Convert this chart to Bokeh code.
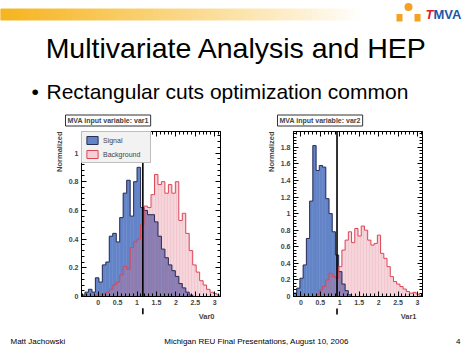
import numpy as np
from bokeh.plotting import figure
from bokeh.models import (Range1d, LinearAxis, SingleIntervalTicker, NumeralTickFormatter,
                          CustomJSTickFormatter, Label, Legend, LegendItem, Arrow, NormalHead,
                          TeeHead, Title)
from bokeh.layouts import column, row
from bokeh.embed import file_html
from bokeh.resources import INLINE

# ---------------- data ----------------
slide_title = "Multivariate Analysis and HEP"
bullet_text = "Rectangular cuts optimization common"
footer_left = "Matt Jachowski"
footer_center = "Michigan REU Final Presentations, August 10, 2006"
page_number = "4"
logo_t = "T"
logo_rest = "MVA"

legend_labels = ["Signal", "Background"]
ylabel_text = "Normalized"

var0_title = "MVA input variable: var1"
var0_xlabel = "Var0"
var0_range = (-0.43, 3.15)
var0_ymax = 1.15
var0_cut = 1.15
var0_signal = [0.01, 0.03, 0.05, 0.03, 0.13, 0.10, 0.22, 0.24, 0.42, 0.44,
               0.38, 0.55, 0.72, 0.81, 0.56, 0.80, 0.90, 0.62, 0.60, 0.57,
               0.57, 0.52, 0.42, 0.33, 0.27, 0.22, 0.18, 0.14, 0.09, 0.06,
               0.03, 0.01, 0.0, 0.0, 0.0, 0.0, 0.0, 0.0, 0.0, 0.0]
var0_background = [0.0, 0.0, 0.0, 0.0, 0.01, 0.01, 0.02, 0.03, 0.05, 0.08,
                   0.10, 0.15, 0.21, 0.19, 0.34, 0.38, 0.40, 0.50, 0.63, 0.62,
                   0.71, 0.85, 0.78, 0.80, 0.72, 0.78, 0.72, 0.80, 0.53, 0.58,
                   0.44, 0.32, 0.22, 0.17, 0.11, 0.08, 0.05, 0.03, 0.02, 0.01]

var1_title = "MVA input variable: var2"
var1_xlabel = "Var1"
var1_range = (-0.19, 3.13)
var1_ymax = 1.99
var1_cut = 0.93
var1_signal = [0.04, 0.10, 0.22, 0.38, 0.70, 1.15, 1.82, 1.52, 1.58, 1.56,
               1.18, 1.00, 0.78, 0.50, 0.30, 0.15, 0.07, 0.02, 0.0, 0.0,
               0.0, 0.0, 0.0, 0.0, 0.0, 0.0, 0.0, 0.0, 0.0, 0.0,
               0.0, 0.0, 0.0, 0.0, 0.0, 0.0, 0.0, 0.0, 0.0, 0.0]
var1_background = [0.0, 0.0, 0.0, 0.0, 0.0, 0.0, 0.0, 0.02, 0.08, 0.12,
                   0.20, 0.28, 0.24, 0.22, 0.36, 0.56, 0.68, 0.78, 0.65, 0.82,
                   0.73, 0.85, 0.80, 0.68, 0.62, 0.64, 0.74, 0.52, 0.46, 0.36,
                   0.24, 0.18, 0.15, 0.12, 0.09, 0.06, 0.04, 0.05, 0.03, 0.01]

FONT = "Liberation Sans"
SIG_FILL = "#6484C8"
SIG_LINE = "#2B2F55"
BKG_FILL = "#DE7084"
BKG_LINE = "#DC4655"


def blank_fig(w, h):
    f = figure(width=w, height=h, x_range=Range1d(0, w), y_range=Range1d(h, 0),
               toolbar_location=None, output_backend="svg", min_border=0,
               x_axis_type=None, y_axis_type=None)
    f.outline_line_color = None
    f.background_fill_color = "white"
    f.border_fill_color = "white"
    return f


def text_at(fig, x, y, txt, size, align="left", **kw):
    # y is the desired baseline; bokeh draws alphabetic text ~0.25em lower
    fig.add_layout(Label(x=x, y=y - 0.25 * size, text=txt, text_font=FONT,
                         text_font_size=f"{size}px", text_align=align,
                         text_baseline="alphabetic", **kw))


# ---------------- header ----------------
hdr = blank_fig(474, 105)
n = 120
gx = np.linspace(0, 360, n + 1)
t = (gx[:-1] + gx[1:]) / 2 / 360
a = np.clip(1 - t, 0, 1) ** 0.9
base = np.array([246, 180, 30])
cols = ["#%02x%02x%02x" % tuple(int(round(c)) for c in (base * ai + 255 * (1 - ai))) for ai in a]
hdr.quad(left=gx[:-1], right=gx[1:], top=8.5, bottom=19.5, fill_color=cols, line_color=cols)

# logo figure
hdr.ellipse(x=[408], y=[6.5], width=8, height=8, fill_color="#F5A21E", line_color=None)
hdr.quad(left=[396, 414], right=[402, 420], top=[13.5, 13.5], bottom=[21, 21],
         fill_color="#F5A21E", line_color=None)
text_at(hdr, 425, 17.5, logo_t, 13, text_font_style="bold italic", text_color="#D8202A")
text_at(hdr, 433, 17.5, logo_rest, 13, text_font_style="bold", text_color="#1F55A8")

text_at(hdr, 236, 55, slide_title, 28.5, align="center", text_color="black")
text_at(hdr, 31, 96.5, "\u2022", 21, text_color="black")
text_at(hdr, 46, 96.5, bullet_text, 21, text_color="black")


# ---------------- histograms ----------------
def style_axis(ax, show_labels=True):
    ax.major_tick_in = 5
    ax.major_tick_out = 0
    ax.minor_tick_in = 3
    ax.minor_tick_out = 0
    ax.axis_line_color = "black"
    ax.major_tick_line_color = "black"
    ax.minor_tick_line_color = "black"
    ax.major_label_text_font = FONT
    ax.major_label_text_font_style = "bold"
    ax.major_label_text_font_size = "7px"
    ax.major_label_standoff = 3
    if show_labels:
        ax.formatter = NumeralTickFormatter(format="0.[0]")
    else:
        ax.formatter = CustomJSTickFormatter(code="return ''")
        ax.major_label_standoff = 0


def hist_panel(width, borders, xr, ymax, sig, bkg, cut, title, xlabel, ystep,
               px_per_y, legend=False):
    bl, br, bt, bb = borders
    p = figure(width=width, height=220, x_range=Range1d(*xr), y_range=Range1d(0, ymax),
               toolbar_location=None, output_backend="svg",
               min_border_left=bl, min_border_right=br, min_border_top=bt, min_border_bottom=bb,
               x_axis_type=None, y_axis_type=None)
    p.outline_line_color = "black"
    p.background_fill_color = "white"
    p.border_fill_color = "white"

    xt = SingleIntervalTicker(interval=0.5, num_minor_ticks=5)
    yt = SingleIntervalTicker(interval=ystep, num_minor_ticks=5)
    for loc, show in (("below", True), ("above", False)):
        ax = LinearAxis(ticker=xt)
        style_axis(ax, show)
        p.add_layout(ax, loc)
    for loc, show in (("left", True), ("right", False)):
        ax = LinearAxis(ticker=yt)
        style_axis(ax, show)
        p.add_layout(ax, loc)

    # outside texts as titles on the panels
    p.add_layout(Title(text=title, align="left", offset=-16, standoff=11,
                       text_font=FONT, text_font_style="bold", text_font_size="7px",
                       border_line_color="#333333", border_line_width=1,
                       background_fill_color="white", padding=2), "above")
    p.add_layout(Title(text=ylabel_text, align="right", offset=0, standoff=3,
                       text_font=FONT, text_font_style="bold", text_font_size="7.5px"), "left")
    p.add_layout(Title(text=xlabel, align="right", offset=6, standoff=4,
                       text_font=FONT, text_font_style="bold", text_font_size="7.5px"), "below")

    edges = np.linspace(xr[0], xr[1], len(sig) + 1)
    sig = np.array(sig)
    bkg = np.array(bkg)
    p.quad(left=edges[:-1], right=edges[1:], bottom=0, top=sig,
           fill_color=SIG_FILL, line_color=SIG_FILL, line_width=0.5)
    p.quad(left=edges[:-1], right=edges[1:], bottom=0, top=bkg,
           fill_color=BKG_FILL, fill_alpha=0.3, line_color=None,
           hatch_pattern="|", hatch_color=BKG_FILL, hatch_alpha=0.25,
           hatch_scale=3, hatch_weight=0.5)
    sx = np.concatenate([[edges[0]], edges])
    p.step(x=sx, y=np.concatenate([[0], sig, [0]]), mode="after",
           line_color=SIG_LINE, line_width=1)
    p.step(x=sx, y=np.concatenate([[0], bkg, [0]]), mode="after",
           line_color=BKG_LINE, line_width=1)

    if legend:
        ls = p.quad(left=edges[:-1], right=edges[1:], bottom=0, top=sig,
                    fill_color=SIG_FILL, line_color=SIG_LINE, visible=False)
        lb = p.quad(left=edges[:-1], right=edges[1:], bottom=0, top=bkg,
                    fill_color="#F3D0D6", line_color=BKG_LINE, visible=False)
        lg = Legend(items=[LegendItem(label=legend_labels[0], renderers=[ls]),
                           LegendItem(label=legend_labels[1], renderers=[lb])],
                    location="top_left", margin=0, padding=3, spacing=4,
                    glyph_width=14, glyph_height=10, label_standoff=4,
                    label_text_font=FONT, label_text_font_size="7px",
                    label_height=10, label_width=44,
                    border_line_color="#888888", border_line_width=1,
                    background_fill_color="#F2F2F2", background_fill_alpha=1)
        p.add_layout(lg)

    # cut arrow: body inside the frame, head below it
    y_head = -18.0 / px_per_y
    p.add_layout(Arrow(end=NormalHead(size=6, fill_color="black", line_color="black"),
                       x_start=cut, y_start=ymax, x_end=cut, y_end=y_head,
                       line_color="black", line_width=1.6))
    # line pieces continuing outside the frame (drawn as tee heads)
    dx = 0.05
    for yc, sz in ((-7.0 / px_per_y, 15), (ymax + 3.5 / px_per_y, 8)):
        p.add_layout(Arrow(end=TeeHead(size=sz, line_width=1.6, line_color="black"),
                           x_start=cut - dx, y_start=yc, x_end=cut, y_end=yc,
                           line_alpha=0))
    return p


h1 = hist_panel(250, (81, 30, 25, 28), var0_range, var0_ymax, var0_signal, var0_background,
                var0_cut, var0_title, var0_xlabel, 0.2, 145.0, legend=True)
h2 = hist_panel(224, (43, 52, 26, 29), var1_range, var1_ymax, var1_signal, var1_background,
                var1_cut, var1_title, var1_xlabel, 0.2, 82.7)

# ---------------- footer ----------------
ftr = blank_fig(474, 30)
for xx, txt, al in ((10, footer_left, "left"), (256, footer_center, "center"), (460, page_number, "right")):
    text_at(ftr, xx, 18, txt, 8, align=al, text_color="black")

layout = column(hdr, row(h1, h2), ftr)
open("out.html", "w").write(file_html(layout, INLINE))
